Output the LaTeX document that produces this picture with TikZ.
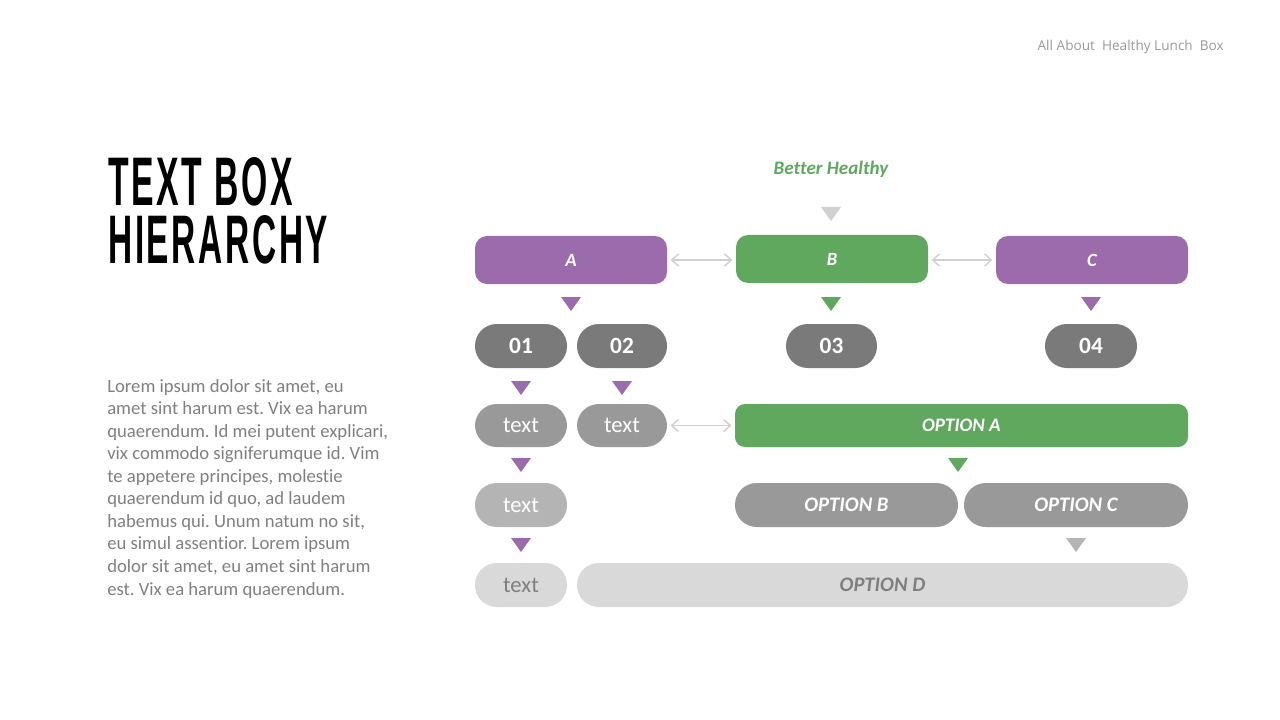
\documentclass[tikz,border=0pt]{standalone}
\usepackage{fontspec}
\usepackage{graphicx}
\setmainfont{Carlito}[Ligatures=CommonOff]
\newfontfamily\titlefont{Liberation Sans}[LetterSpace=8]
\newfontfamily\headfont{Open Sans}
\usetikzlibrary{arrows.meta,calc}
\frenchspacing
\definecolor{cpurple}{HTML}{9B6BAB}
\definecolor{cgreen}{HTML}{5FA85E}
\definecolor{cdark}{HTML}{7A7A7A}
\definecolor{cmid}{HTML}{999999}
\definecolor{clight}{HTML}{B4B4B4}
\definecolor{clightest}{HTML}{D9D9D9}
\definecolor{ctxt}{HTML}{7F7F7F}
\definecolor{carrow}{HTML}{D0D0D0}
\tikzset{
  x=0.75pt, y=-0.75pt,
  box/.style={draw=none, inner sep=0pt, minimum height=36pt, minimum width=144pt,
    rounded corners=9pt, text=white, font=\fontsize{14}{16}\selectfont\bfseries\itshape},
  pill/.style={draw=none, inner sep=0pt, minimum height=33pt, rounded corners=16.3pt,
    text=white},
  numfont/.style={font=\fontsize{17.5}{20}\selectfont\bfseries},
  txtfont/.style={font=\fontsize{17}{20}\selectfont},
  optfont/.style={font=\fontsize{15.5}{18}\selectfont\bfseries\itshape},
  dbl/.style={draw=carrow, line width=1.1pt, {Straight Barb[length=5pt,width=9pt]}-{Straight Barb[length=5pt,width=9pt]}, shorten <=2.5pt, shorten >=2.5pt},
}
\newcommand{\tri}[3]{\fill[#3] (#1-10,#2) -- (#1+10,#2) -- (#1,#2+14) -- cycle;}
\begin{document}
\begin{tikzpicture}
\useasboundingbox (0,0) rectangle (1280,720);
% header
\node[anchor=east, inner sep=0pt, text=cmid, font=\headfont\fontsize{10.2}{12}\selectfont] (hdr) at (1224,47) {All About\ \ Healthy Lunch\ \ Box};
% title
\node[anchor=north west, inner sep=0pt, align=left, font=\titlefont\bfseries\fontsize{20}{43.5pt}\selectfont] (title) at (108,157) {\resizebox{138.75pt}{36pt}{TEXT BOX}\\\resizebox{165pt}{36pt}{HIERARCHY}};
% body
\node[anchor=north west, inner sep=0pt, align=left, text=ctxt, font=\fontsize{14}{16.9}\selectfont] (body) at (107,379) {Lorem ipsum dolor sit amet, eu\\amet sint harum est. Vix ea harum\\quaerendum. Id mei putent explicari,\\vix commodo signiferumque id. Vim\\te appetere principes, molestie\\quaerendum id quo, ad laudem\\habemus qui. Unum natum no sit,\\eu simul assentior. Lorem ipsum\\dolor sit amet, eu amet sint harum\\est. Vix ea harum quaerendum.};
% better healthy
\node[text=cgreen, font=\fontsize{14.3}{16}\selectfont\bfseries\itshape] (bh) at (831,169) {Better Healthy};
% row 1
\node[box, fill=cpurple] (A) at (571,260) {A};
\node[box, fill=cgreen] (B) at (832,259) {B};
\node[box, fill=cpurple] (C) at (1092,260) {C};
% row 2
\node[pill, numfont, fill=cdark, minimum width=69pt] (n01) at (521,346) {01};
\node[pill, numfont, fill=cdark, minimum width=67.5pt] (n02) at (622,346) {02};
\node[pill, numfont, fill=cdark, minimum width=68.25pt] (n03) at (831.5,346) {03};
\node[pill, numfont, fill=cdark, minimum width=69pt] (n04) at (1091,346) {04};
% row 3
\node[pill, txtfont, fill=cmid, minimum width=69pt, minimum height=32.25pt] (t31) at (521,425.5) {text};
\node[pill, txtfont, fill=cmid, minimum width=67.5pt, minimum height=32.25pt] (t32) at (622,425.5) {text};
\node[draw=none, inner sep=0pt, fill=cgreen, text=white, rounded corners=7.5pt, minimum width=339.75pt, minimum height=32.25pt, font=\fontsize{14.3}{16}\selectfont\bfseries\itshape] (oA) at (961.5,425.5) {OPTION A};
% row 4
\node[pill, txtfont, fill=clight, minimum width=69pt] (t41) at (521,505) {text};
\node[pill, optfont, fill=cmid, minimum width=167.25pt] (oB) at (846.5,505) {OPTION B};
\node[pill, optfont, fill=cmid, minimum width=168pt] (oC) at (1076,505) {OPTION C};
% row 5
\node[pill, txtfont, fill=clightest, text=ctxt, minimum width=69pt] (t51) at (521,585) {text};
\node[pill, optfont, fill=clightest, text=ctxt, minimum width=458.25pt] (oD) at (882.5,585) {OPTION D};
% double arrows
\draw[dbl] (A.east) -- (B.west |- A.east);
\draw[dbl] (B.east |- C.west) -- (C.west);
\draw[dbl] (t32.east) -- (oA.west);
% triangles
\tri{831}{207}{carrow}
\tri{571}{297}{cpurple}
\tri{831}{297}{cgreen}
\tri{1091}{297}{cpurple}
\tri{521}{381}{cpurple}
\tri{622}{381}{cpurple}
\tri{521}{458}{cpurple}
\tri{958}{458}{cgreen}
\tri{521}{538}{cpurple}
\tri{1076}{538}{clight}
\end{tikzpicture}
\end{document}
